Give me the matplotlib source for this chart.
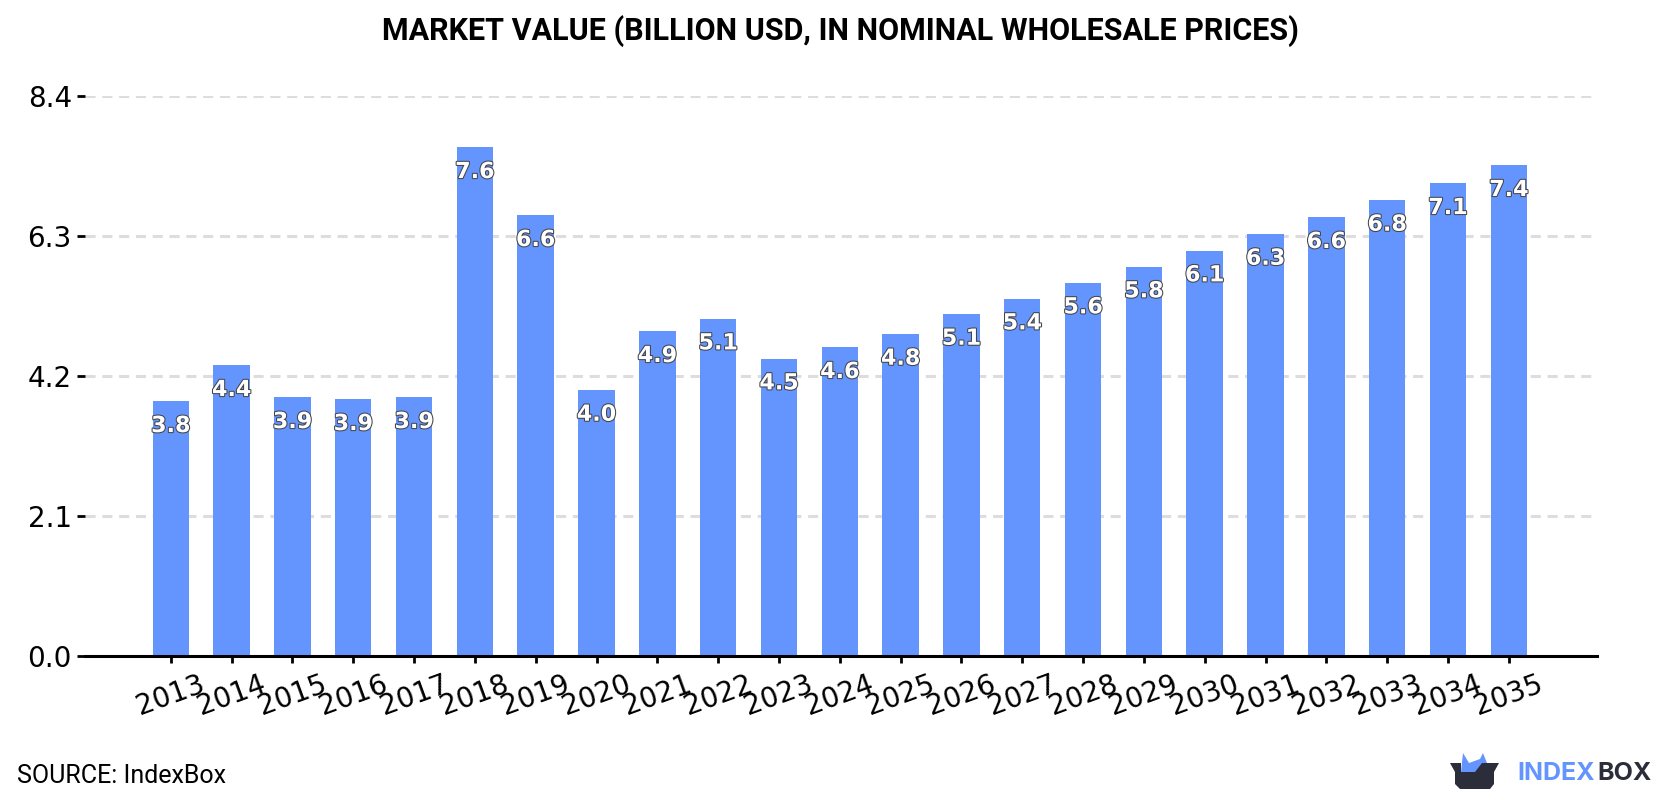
import matplotlib
matplotlib.use('Agg')
import matplotlib.pyplot as plt
import matplotlib.patheffects as pe
from matplotlib.patches import Polygon

years = ['2013', '2014', '2015', '2016', '2017', '2018', '2019', '2020', '2021', '2022', '2023',
         '2024', '2025', '2026', '2027', '2028', '2029', '2030', '2031', '2032', '2033', '2034', '2035']
market_value = [3.82, 4.36, 3.88, 3.85, 3.88, 7.63, 6.61, 3.99, 4.87, 5.06, 4.46,
                4.63, 4.83, 5.13, 5.36, 5.60, 5.84, 6.08, 6.33, 6.58, 6.84, 7.09, 7.36]
y_ticks = [0.0, 2.1, 4.2, 6.3, 8.4]

BLUE = '#6495ff'
DARK = '#2b2d3a'

fig = plt.figure(figsize=(16.8, 8), dpi=100)
ax = fig.add_axes([85 / 1680, 1 - 656 / 800, 1512 / 1680, 560 / 800])

x = list(range(len(years)))
ax.bar(x, market_value, width=0.6, color=BLUE, zorder=3)

for xi, v in zip(x, market_value):
    ax.annotate(f'{v:.1f}', (xi, v), xytext=(0, -17.8), textcoords='offset points',
                ha='center', va='center', fontsize=16, fontweight='bold', color='white', zorder=4,
                path_effects=[pe.withStroke(linewidth=1.5, foreground='#444444')])

ax.set_xlim(-1.41, 23.45)
ax.set_ylim(0, 8.4)
ax.set_yticks(y_ticks)
ax.set_yticklabels([f'{t:.1f}' for t in y_ticks])
ax.set_xticks(x)
ax.set_xticklabels(years, rotation=20, ha='center')
ax.tick_params(axis='y', labelsize=20, length=6, width=2, pad=3.5)
ax.tick_params(axis='x', labelsize=20, length=5, width=2, pad=5)

ax.grid(axis='y', color='#dddddd', linewidth=2.2, linestyle=(0, (3.3, 2.2)), zorder=1)
ax.set_axisbelow(True)
for side in ['top', 'left', 'right']:
    ax.spines[side].set_visible(False)
ax.spines['bottom'].set_linewidth(2.2)
ax.spines['bottom'].set_zorder(5)

fig.text(840 / 1680, 1 - 31 / 800, 'MARKET VALUE (BILLION USD, IN NOMINAL WHOLESALE PRICES)',
         ha='center', va='center', fontsize=22, fontweight='bold', family='Roboto', color='black')
fig.text(17 / 1680, 1 - 776 / 800, 'SOURCE: IndexBox', ha='left', va='center',
         fontsize=18, family='Roboto', color='black')

# logo, drawn in pixel coordinates on an overlay
logo = fig.add_axes([0, 0, 1, 1], facecolor='none')
logo.set_xlim(0, 1680)
logo.set_ylim(800, 0)
logo.axis('off')
logo.add_patch(Polygon([(1461, 772), (1463, 753), (1469, 763), (1480, 759), (1483, 753), (1487, 763),
                        (1487, 775), (1461, 775)], closed=True, color=BLUE, lw=0))
logo.add_patch(Polygon([(1450, 763), (1461, 763), (1461, 772), (1475, 772), (1482, 763), (1499, 763),
                        (1494, 772), (1494, 784), (1490, 789), (1460, 789), (1455, 784), (1455, 772)],
                       closed=True, color=DARK, lw=0))
logo.text(1517, 774, 'INDEX', ha='left', va='center', fontsize=18, fontweight='bold',
          family='Inter', color=BLUE)
logo.text(1597, 774, 'BOX', ha='left', va='center', fontsize=18, fontweight='bold',
          family='Inter', color=DARK)

fig.savefig('out.png', dpi=100)
